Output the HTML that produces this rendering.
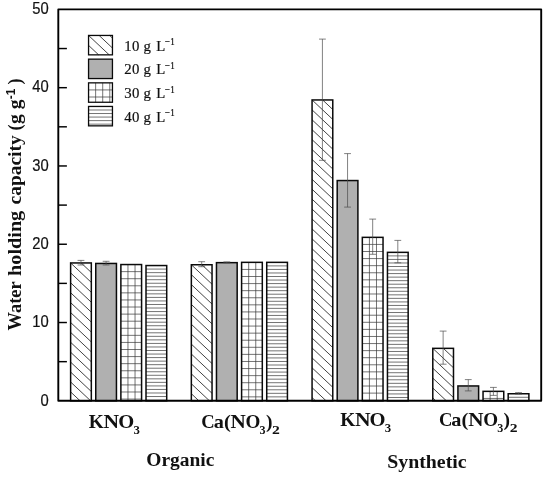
<!DOCTYPE html>
<html lang="en"><head><meta charset="utf-8"><title>Water holding capacity</title>
<style>html,body{margin:0;padding:0;background:#fff}svg{display:block}.tk{font-family:"Liberation Sans",Arial,sans-serif;font-size:15.8px;fill:#111;stroke:#111;stroke-width:0.2px}.cb{font-family:"Liberation Serif","Times New Roman",serif;font-weight:bold;fill:#111}.lg{font-family:"Liberation Serif","Times New Roman",serif;fill:#111;stroke:#111;stroke-width:0.2px}</style></head><body>
<svg width="550" height="478" viewBox="0 0 550 478">
<rect width="550" height="478" fill="#fff"/>
<rect x="70.62" y="262.95" width="20.70" height="137.85" fill="#fff"/><path d="M81.17 262.95L91.32 272.49M70.62 262.95L91.32 282.41M70.62 272.87L91.32 292.33M70.62 282.79L91.32 302.25M70.62 292.71L91.32 312.17M70.62 302.63L91.32 322.09M70.62 312.55L91.32 332.01M70.62 322.47L91.32 341.93M70.62 332.39L91.32 351.85M70.62 342.31L91.32 361.77M70.62 352.23L91.32 371.69M70.62 362.15L91.32 381.61M70.62 372.07L91.32 391.53M70.62 381.99L90.63 400.80M70.62 391.91L80.07 400.80" fill="none" stroke="#2e2e2e" stroke-width="0.9"/>
<rect x="70.62" y="262.95" width="20.70" height="137.85" fill="none" stroke="#0a0a0a" stroke-width="1.5"/>
<rect x="95.75" y="263.45" width="20.70" height="137.35" fill="#b0b0b0"/>
<rect x="95.75" y="263.45" width="20.70" height="137.35" fill="none" stroke="#0a0a0a" stroke-width="1.5"/>
<rect x="120.88" y="264.55" width="20.70" height="136.25" fill="#fff"/><path d="M120.88 271.63H141.58M120.88 278.71H141.58M120.88 285.79H141.58M120.88 292.87H141.58M120.88 299.95H141.58M120.88 307.03H141.58M120.88 314.11H141.58M120.88 321.19H141.58M120.88 328.27H141.58M120.88 335.35H141.58M120.88 342.43H141.58M120.88 349.51H141.58M120.88 356.59H141.58M120.88 363.67H141.58M120.88 370.75H141.58M120.88 377.83H141.58M120.88 384.91H141.58M120.88 391.99H141.58M120.88 399.07H141.58M127.96 264.55V400.80M135.04 264.55V400.80" fill="none" stroke="#383838" stroke-width="0.7"/>
<rect x="120.88" y="264.55" width="20.70" height="136.25" fill="none" stroke="#0a0a0a" stroke-width="1.5"/>
<rect x="146.01" y="265.55" width="20.70" height="135.25" fill="#fff"/><path d="M146.01 269.09H166.71M146.01 272.63H166.71M146.01 276.17H166.71M146.01 279.71H166.71M146.01 283.25H166.71M146.01 286.79H166.71M146.01 290.33H166.71M146.01 293.87H166.71M146.01 297.41H166.71M146.01 300.95H166.71M146.01 304.49H166.71M146.01 308.03H166.71M146.01 311.57H166.71M146.01 315.11H166.71M146.01 318.65H166.71M146.01 322.19H166.71M146.01 325.73H166.71M146.01 329.27H166.71M146.01 332.81H166.71M146.01 336.35H166.71M146.01 339.89H166.71M146.01 343.43H166.71M146.01 346.97H166.71M146.01 350.51H166.71M146.01 354.05H166.71M146.01 357.59H166.71M146.01 361.13H166.71M146.01 364.67H166.71M146.01 368.21H166.71M146.01 371.75H166.71M146.01 375.29H166.71M146.01 378.83H166.71M146.01 382.37H166.71M146.01 385.91H166.71M146.01 389.45H166.71M146.01 392.99H166.71M146.01 396.53H166.71M146.01 400.07H166.71" fill="none" stroke="#383838" stroke-width="0.7"/>
<rect x="146.01" y="265.55" width="20.70" height="135.25" fill="none" stroke="#0a0a0a" stroke-width="1.5"/>
<path d="M80.97 260.40V265.00M77.57 260.40H84.37M77.57 265.00H84.37" fill="none" stroke="#4c4c4c" stroke-width="0.7"/>
<path d="M106.10 261.30V265.00M102.70 261.30H109.50M102.70 265.00H109.50" fill="none" stroke="#4c4c4c" stroke-width="0.7"/>
<rect x="191.34" y="264.75" width="20.70" height="136.05" fill="#fff"/><path d="M201.90 264.75L212.04 274.29M191.34 264.75L212.04 284.21M191.34 274.67L212.04 294.13M191.34 284.59L212.04 304.05M191.34 294.51L212.04 313.97M191.34 304.43L212.04 323.89M191.34 314.35L212.04 333.81M191.34 324.27L212.04 343.73M191.34 334.19L212.04 353.65M191.34 344.11L212.04 363.57M191.34 354.03L212.04 373.49M191.34 363.95L212.04 383.41M191.34 373.87L212.04 393.33M191.34 383.79L209.44 400.80M191.34 393.71L198.89 400.80" fill="none" stroke="#2e2e2e" stroke-width="0.9"/>
<rect x="191.34" y="264.75" width="20.70" height="136.05" fill="none" stroke="#0a0a0a" stroke-width="1.5"/>
<rect x="216.47" y="262.65" width="20.70" height="138.15" fill="#b0b0b0"/>
<rect x="216.47" y="262.65" width="20.70" height="138.15" fill="none" stroke="#0a0a0a" stroke-width="1.5"/>
<rect x="241.60" y="262.35" width="20.70" height="138.45" fill="#fff"/><path d="M241.60 269.43H262.30M241.60 276.51H262.30M241.60 283.59H262.30M241.60 290.67H262.30M241.60 297.75H262.30M241.60 304.83H262.30M241.60 311.91H262.30M241.60 318.99H262.30M241.60 326.07H262.30M241.60 333.15H262.30M241.60 340.23H262.30M241.60 347.31H262.30M241.60 354.39H262.30M241.60 361.47H262.30M241.60 368.55H262.30M241.60 375.63H262.30M241.60 382.71H262.30M241.60 389.79H262.30M241.60 396.87H262.30M248.68 262.35V400.80M255.76 262.35V400.80" fill="none" stroke="#383838" stroke-width="0.7"/>
<rect x="241.60" y="262.35" width="20.70" height="138.45" fill="none" stroke="#0a0a0a" stroke-width="1.5"/>
<rect x="266.73" y="262.35" width="20.70" height="138.45" fill="#fff"/><path d="M266.73 265.89H287.43M266.73 269.43H287.43M266.73 272.97H287.43M266.73 276.51H287.43M266.73 280.05H287.43M266.73 283.59H287.43M266.73 287.13H287.43M266.73 290.67H287.43M266.73 294.21H287.43M266.73 297.75H287.43M266.73 301.29H287.43M266.73 304.83H287.43M266.73 308.37H287.43M266.73 311.91H287.43M266.73 315.45H287.43M266.73 318.99H287.43M266.73 322.53H287.43M266.73 326.07H287.43M266.73 329.61H287.43M266.73 333.15H287.43M266.73 336.69H287.43M266.73 340.23H287.43M266.73 343.77H287.43M266.73 347.31H287.43M266.73 350.85H287.43M266.73 354.39H287.43M266.73 357.93H287.43M266.73 361.47H287.43M266.73 365.01H287.43M266.73 368.55H287.43M266.73 372.09H287.43M266.73 375.63H287.43M266.73 379.17H287.43M266.73 382.71H287.43M266.73 386.25H287.43M266.73 389.79H287.43M266.73 393.33H287.43M266.73 396.87H287.43" fill="none" stroke="#383838" stroke-width="0.7"/>
<rect x="266.73" y="262.35" width="20.70" height="138.45" fill="none" stroke="#0a0a0a" stroke-width="1.5"/>
<path d="M201.69 261.70V266.70M198.29 261.70H205.09M198.29 266.70H205.09" fill="none" stroke="#4c4c4c" stroke-width="0.7"/>
<path d="M226.82 261.90V262.90M223.42 261.90H230.22M223.42 262.90H230.22" fill="none" stroke="#4c4c4c" stroke-width="0.7"/>
<rect x="312.07" y="99.95" width="20.70" height="300.85" fill="#fff"/><path d="M322.62 99.95L332.77 109.49M312.07 99.95L332.77 119.41M312.07 109.87L332.77 129.33M312.07 119.79L332.77 139.25M312.07 129.71L332.77 149.17M312.07 139.63L332.77 159.09M312.07 149.55L332.77 169.01M312.07 159.47L332.77 178.93M312.07 169.39L332.77 188.85M312.07 179.31L332.77 198.77M312.07 189.23L332.77 208.69M312.07 199.15L332.77 218.61M312.07 209.07L332.77 228.53M312.07 218.99L332.77 238.45M312.07 228.91L332.77 248.37M312.07 238.83L332.77 258.29M312.07 248.75L332.77 268.21M312.07 258.67L332.77 278.13M312.07 268.59L332.77 288.05M312.07 278.51L332.77 297.97M312.07 288.43L332.77 307.89M312.07 298.35L332.77 317.81M312.07 308.27L332.77 327.73M312.07 318.19L332.77 337.65M312.07 328.11L332.77 347.57M312.07 338.03L332.77 357.49M312.07 347.95L332.77 367.41M312.07 357.87L332.77 377.33M312.07 367.79L332.77 387.25M312.07 377.71L332.77 397.17M312.07 387.63L326.08 400.80M312.07 397.55L315.52 400.80" fill="none" stroke="#2e2e2e" stroke-width="0.9"/>
<rect x="312.07" y="99.95" width="20.70" height="300.85" fill="none" stroke="#0a0a0a" stroke-width="1.5"/>
<rect x="337.20" y="180.55" width="20.70" height="220.25" fill="#b0b0b0"/>
<rect x="337.20" y="180.55" width="20.70" height="220.25" fill="none" stroke="#0a0a0a" stroke-width="1.5"/>
<rect x="362.33" y="237.35" width="20.70" height="163.45" fill="#fff"/><path d="M362.33 244.43H383.03M362.33 251.51H383.03M362.33 258.59H383.03M362.33 265.67H383.03M362.33 272.75H383.03M362.33 279.83H383.03M362.33 286.91H383.03M362.33 293.99H383.03M362.33 301.07H383.03M362.33 308.15H383.03M362.33 315.23H383.03M362.33 322.31H383.03M362.33 329.39H383.03M362.33 336.47H383.03M362.33 343.55H383.03M362.33 350.63H383.03M362.33 357.71H383.03M362.33 364.79H383.03M362.33 371.87H383.03M362.33 378.95H383.03M362.33 386.03H383.03M362.33 393.11H383.03M362.33 400.19H383.03M369.41 237.35V400.80M376.49 237.35V400.80" fill="none" stroke="#383838" stroke-width="0.7"/>
<rect x="362.33" y="237.35" width="20.70" height="163.45" fill="none" stroke="#0a0a0a" stroke-width="1.5"/>
<rect x="387.46" y="252.35" width="20.70" height="148.45" fill="#fff"/><path d="M387.46 255.89H408.16M387.46 259.43H408.16M387.46 262.97H408.16M387.46 266.51H408.16M387.46 270.05H408.16M387.46 273.59H408.16M387.46 277.13H408.16M387.46 280.67H408.16M387.46 284.21H408.16M387.46 287.75H408.16M387.46 291.29H408.16M387.46 294.83H408.16M387.46 298.37H408.16M387.46 301.91H408.16M387.46 305.45H408.16M387.46 308.99H408.16M387.46 312.53H408.16M387.46 316.07H408.16M387.46 319.61H408.16M387.46 323.15H408.16M387.46 326.69H408.16M387.46 330.23H408.16M387.46 333.77H408.16M387.46 337.31H408.16M387.46 340.85H408.16M387.46 344.39H408.16M387.46 347.93H408.16M387.46 351.47H408.16M387.46 355.01H408.16M387.46 358.55H408.16M387.46 362.09H408.16M387.46 365.63H408.16M387.46 369.17H408.16M387.46 372.71H408.16M387.46 376.25H408.16M387.46 379.79H408.16M387.46 383.33H408.16M387.46 386.87H408.16M387.46 390.41H408.16M387.46 393.95H408.16M387.46 397.49H408.16" fill="none" stroke="#383838" stroke-width="0.7"/>
<rect x="387.46" y="252.35" width="20.70" height="148.45" fill="none" stroke="#0a0a0a" stroke-width="1.5"/>
<path d="M322.42 39.10V160.30M319.02 39.10H325.82M319.02 160.30H325.82" fill="none" stroke="#4c4c4c" stroke-width="0.7"/>
<path d="M347.55 153.60V207.10M344.15 153.60H350.95M344.15 207.10H350.95" fill="none" stroke="#4c4c4c" stroke-width="0.7"/>
<path d="M372.68 219.10V254.30M369.28 219.10H376.08M369.28 254.30H376.08" fill="none" stroke="#4c4c4c" stroke-width="0.7"/>
<path d="M397.81 240.40V262.80M394.41 240.40H401.21M394.41 262.80H401.21" fill="none" stroke="#4c4c4c" stroke-width="0.7"/>
<rect x="432.79" y="348.35" width="20.70" height="52.45" fill="#fff"/><path d="M443.35 348.35L453.49 357.89M432.79 348.35L453.49 367.81M432.79 358.27L453.49 377.73M432.79 368.19L453.49 387.65M432.79 378.11L453.49 397.57M432.79 388.03L446.38 400.80M432.79 397.95L435.82 400.80" fill="none" stroke="#2e2e2e" stroke-width="0.9"/>
<rect x="432.79" y="348.35" width="20.70" height="52.45" fill="none" stroke="#0a0a0a" stroke-width="1.5"/>
<rect x="457.92" y="385.95" width="20.70" height="14.85" fill="#b0b0b0"/>
<rect x="457.92" y="385.95" width="20.70" height="14.85" fill="none" stroke="#0a0a0a" stroke-width="1.5"/>
<rect x="483.05" y="391.35" width="20.70" height="9.45" fill="#fff"/><path d="M483.05 398.43H503.75M490.13 391.35V400.80M497.21 391.35V400.80" fill="none" stroke="#383838" stroke-width="0.7"/>
<rect x="483.05" y="391.35" width="20.70" height="9.45" fill="none" stroke="#0a0a0a" stroke-width="1.5"/>
<rect x="508.18" y="393.75" width="20.70" height="7.05" fill="#fff"/><path d="M508.18 397.29H528.88" fill="none" stroke="#383838" stroke-width="0.7"/>
<rect x="508.18" y="393.75" width="20.70" height="7.05" fill="none" stroke="#0a0a0a" stroke-width="1.5"/>
<path d="M443.14 331.10V364.20M439.74 331.10H446.54M439.74 364.20H446.54" fill="none" stroke="#4c4c4c" stroke-width="0.7"/>
<path d="M468.27 379.60V390.90M464.87 379.60H471.67M464.87 390.90H471.67" fill="none" stroke="#4c4c4c" stroke-width="0.7"/>
<path d="M493.40 387.40V395.40M490.00 387.40H496.80M490.00 395.40H496.80" fill="none" stroke="#4c4c4c" stroke-width="0.7"/>
<path d="M518.53 392.60V394.00M515.13 392.60H521.93M515.13 394.00H521.93" fill="none" stroke="#4c4c4c" stroke-width="0.7"/>
<rect x="58.3" y="9.4" width="482.90" height="391.40" fill="none" stroke="#000" stroke-width="1.9" stroke-linejoin="round"/>
<line x1="58.3" y1="361.66" x2="66.89999999999999" y2="361.66" stroke="#000" stroke-width="1.45"/>
<line x1="58.3" y1="322.52" x2="66.89999999999999" y2="322.52" stroke="#000" stroke-width="1.45"/>
<line x1="58.3" y1="283.38" x2="66.89999999999999" y2="283.38" stroke="#000" stroke-width="1.45"/>
<line x1="58.3" y1="244.24" x2="66.89999999999999" y2="244.24" stroke="#000" stroke-width="1.45"/>
<line x1="58.3" y1="205.10" x2="66.89999999999999" y2="205.10" stroke="#000" stroke-width="1.45"/>
<line x1="58.3" y1="165.96" x2="66.89999999999999" y2="165.96" stroke="#000" stroke-width="1.45"/>
<line x1="58.3" y1="126.82" x2="66.89999999999999" y2="126.82" stroke="#000" stroke-width="1.45"/>
<line x1="58.3" y1="87.68" x2="66.89999999999999" y2="87.68" stroke="#000" stroke-width="1.45"/>
<line x1="58.3" y1="48.54" x2="66.89999999999999" y2="48.54" stroke="#000" stroke-width="1.45"/>
<text class="tk" transform="translate(48.6 405.55) scale(0.935 1)" text-anchor="end">0</text>
<text class="tk" transform="translate(48.6 327.27) scale(0.935 1)" text-anchor="end">10</text>
<text class="tk" transform="translate(48.6 248.99) scale(0.935 1)" text-anchor="end">20</text>
<text class="tk" transform="translate(48.6 170.71) scale(0.935 1)" text-anchor="end">30</text>
<text class="tk" transform="translate(48.6 92.43) scale(0.935 1)" text-anchor="end">40</text>
<text class="tk" transform="translate(48.6 14.15) scale(0.935 1)" text-anchor="end">50</text>
<rect x="88.55" y="35.45" width="23.90" height="19.40" fill="#fff"/><path d="M109.66 35.45L112.45 38.08M99.10 35.45L112.45 48.00M88.55 35.45L109.19 54.85M88.55 45.37L98.64 54.85" fill="none" stroke="#2e2e2e" stroke-width="0.9"/>
<rect x="88.55" y="35.45" width="23.90" height="19.40" fill="none" stroke="#0a0a0a" stroke-width="1.3"/>
<text class="lg" y="50.7" font-size="14.8"><tspan x="124.2" textLength="15.2" lengthAdjust="spacing">10</tspan><tspan x="143.4">g</tspan><tspan x="156.2">L</tspan><tspan x="165.1" dy="-5.6" font-size="10.4" textLength="9.6" lengthAdjust="spacingAndGlyphs">−1</tspan></text>
<rect x="88.55" y="59.15" width="23.90" height="19.40" fill="#b0b0b0"/>
<rect x="88.55" y="59.15" width="23.90" height="19.40" fill="none" stroke="#0a0a0a" stroke-width="1.3"/>
<text class="lg" y="74.4" font-size="14.8"><tspan x="124.2" textLength="15.2" lengthAdjust="spacing">20</tspan><tspan x="143.4">g</tspan><tspan x="156.2">L</tspan><tspan x="165.1" dy="-5.6" font-size="10.4" textLength="9.6" lengthAdjust="spacingAndGlyphs">−1</tspan></text>
<rect x="88.55" y="82.85" width="23.90" height="19.40" fill="#fff"/><path d="M88.55 89.93H112.45M88.55 97.01H112.45M95.63 82.85V102.25M102.71 82.85V102.25M109.79 82.85V102.25" fill="none" stroke="#383838" stroke-width="0.7"/>
<rect x="88.55" y="82.85" width="23.90" height="19.40" fill="none" stroke="#0a0a0a" stroke-width="1.3"/>
<text class="lg" y="98.2" font-size="14.8"><tspan x="124.2" textLength="15.2" lengthAdjust="spacing">30</tspan><tspan x="143.4">g</tspan><tspan x="156.2">L</tspan><tspan x="165.1" dy="-5.6" font-size="10.4" textLength="9.6" lengthAdjust="spacingAndGlyphs">−1</tspan></text>
<rect x="88.55" y="106.45" width="23.90" height="19.40" fill="#fff"/><path d="M88.55 109.99H112.45M88.55 113.53H112.45M88.55 117.07H112.45M88.55 120.61H112.45M88.55 124.15H112.45" fill="none" stroke="#383838" stroke-width="0.7"/>
<rect x="88.55" y="106.45" width="23.90" height="19.40" fill="none" stroke="#0a0a0a" stroke-width="1.3"/>
<text class="lg" y="121.6" font-size="14.8"><tspan x="124.2" textLength="15.2" lengthAdjust="spacing">40</tspan><tspan x="143.4">g</tspan><tspan x="156.2">L</tspan><tspan x="165.1" dy="-5.6" font-size="10.4" textLength="9.6" lengthAdjust="spacingAndGlyphs">−1</tspan></text>
<g><text class="cb" transform="translate(88.87 427.90) scale(1.076 1)" font-size="17.9">K</text><text class="cb" transform="translate(103.59 427.90) scale(1.206 1)" font-size="17.9">N</text><text class="cb" transform="translate(118.29 427.90) scale(1.150 1)" font-size="17.9">O</text><text class="cb" transform="translate(133.51 433.80) scale(1.045 1)" font-size="12.3">3</text></g>
<g><text class="cb" transform="translate(201.29 427.70) scale(1.039 1)" font-size="17.9">C</text><text class="cb" transform="translate(213.65 427.70) scale(1.135 1)" font-size="17.9">a</text><text class="cb" transform="translate(223.89 427.70) scale(1.152 1)" font-size="17.9">(</text><text class="cb" transform="translate(230.60 427.70) scale(1.182 1)" font-size="17.9">N</text><text class="cb" transform="translate(245.46 427.70) scale(1.068 1)" font-size="17.9">O</text><text class="cb" transform="translate(259.54 433.60) scale(0.988 1)" font-size="12.3">3</text><text class="cb" transform="translate(265.88 427.70) scale(1.087 1)" font-size="17.9">)</text><text class="cb" transform="translate(272.04 433.60) scale(1.273 1)" font-size="12.3">2</text></g>
<g><text class="cb" transform="translate(340.17 426.00) scale(1.076 1)" font-size="17.9">K</text><text class="cb" transform="translate(354.89 426.00) scale(1.206 1)" font-size="17.9">N</text><text class="cb" transform="translate(369.59 426.00) scale(1.150 1)" font-size="17.9">O</text><text class="cb" transform="translate(384.81 431.90) scale(1.045 1)" font-size="12.3">3</text></g>
<g><text class="cb" transform="translate(438.99 426.00) scale(1.039 1)" font-size="17.9">C</text><text class="cb" transform="translate(451.35 426.00) scale(1.135 1)" font-size="17.9">a</text><text class="cb" transform="translate(461.59 426.00) scale(1.152 1)" font-size="17.9">(</text><text class="cb" transform="translate(468.30 426.00) scale(1.182 1)" font-size="17.9">N</text><text class="cb" transform="translate(483.16 426.00) scale(1.068 1)" font-size="17.9">O</text><text class="cb" transform="translate(497.24 431.90) scale(0.988 1)" font-size="12.3">3</text><text class="cb" transform="translate(503.58 426.00) scale(1.087 1)" font-size="17.9">)</text><text class="cb" transform="translate(509.74 431.90) scale(1.273 1)" font-size="12.3">2</text></g>
<text class="cb" x="146.3" y="466" font-size="17.9" textLength="68" lengthAdjust="spacingAndGlyphs">Organic</text>
<text class="cb" x="387.2" y="468" font-size="17.9" textLength="79.4" lengthAdjust="spacingAndGlyphs">Synthetic</text>
<g transform="translate(21.3 0) rotate(-90)"><text class="cb" x="-330.50" y="0" font-size="18.5" textLength="49.20" lengthAdjust="spacingAndGlyphs">Water</text><text class="cb" x="-275.90" y="0" font-size="18.5" textLength="65.10" lengthAdjust="spacingAndGlyphs">holding</text><text class="cb" x="-204.40" y="0" font-size="18.5" textLength="69.00" lengthAdjust="spacingAndGlyphs">capacity</text><text class="cb" x="-130.6" y="0" font-size="18.5">(</text><text class="cb" x="-124.10" y="0" font-size="18.5" textLength="9.80" lengthAdjust="spacingAndGlyphs">g</text><text class="cb" x="-109.20" y="0" font-size="18.5" textLength="9.80" lengthAdjust="spacingAndGlyphs">g</text><text x="-99.3" y="-6.7" font-family="'Liberation Sans',Arial,sans-serif" font-weight="bold" font-size="12" fill="#111">-1</text><text class="cb" x="-84.4" y="0" font-size="18.5">)</text></g>
</svg></body></html>
